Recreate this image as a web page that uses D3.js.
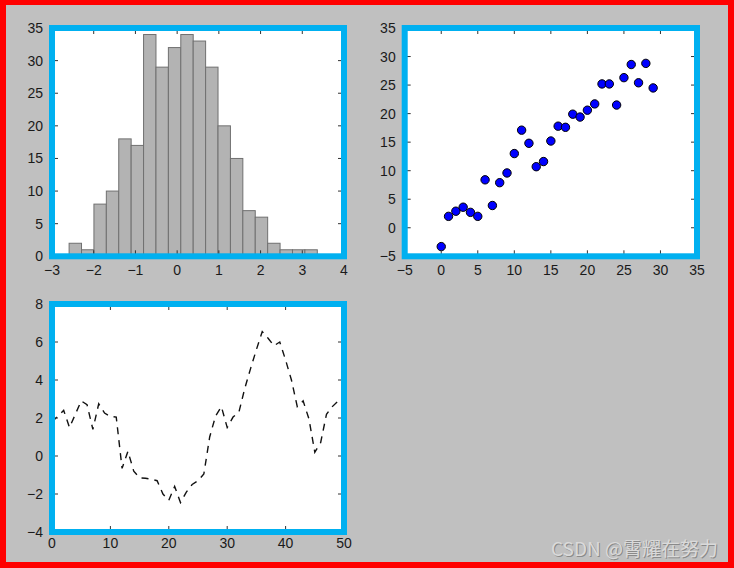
<!DOCTYPE html>
<html>
<head>
<meta charset="utf-8">
<script src="https://cdn.jsdelivr.net/npm/d3@7"></script>
<style>
  html, body { margin: 0; padding: 0; background: #c0c0c0; }
  svg { display: block; }
</style>
</head>
<body>
<svg id="chart" width="734" height="568"></svg>
<script>
// ---------------- DATA ----------------
const histCounts = [2, 1, 8, 10, 18, 17, 34, 29, 32, 34, 33, 29, 20, 15, 7, 6, 2, 1, 1, 1];
const histRange = [-2.59, 3.36];
const histXTicks = [-3, -2, -1, 0, 1, 2, 3, 4];
const histYTicks = [0, 5, 10, 15, 20, 25, 30, 35];

const scatterY = [-3.3, 2.0, 2.9, 3.6, 2.7, 2.0, 8.4, 3.9, 7.9, 9.6,
                  13.0, 17.1, 14.8, 10.7, 11.6, 15.2, 17.8, 17.6, 19.9, 19.4,
                  20.6, 21.7, 25.2, 25.2, 21.5, 26.3, 28.6, 25.4, 28.8, 24.5];
const scatterXTicks = [-5, 0, 5, 10, 15, 20, 25, 30, 35];
const scatterYTicks = [-5, 0, 5, 10, 15, 20, 25, 30, 35];

const lineValues = [1.8, 2.1, 2.4, 1.5, 2.2, 2.9, 2.7, 1.4, 2.75, 2.26,
                    2.08, 2.05, -0.65, 0.25, -0.8, -1.15, -1.17, -1.22, -1.3, -2.0,
                    -2.33, -1.6, -2.45, -1.9, -1.5, -1.3, -0.95, 1.0, 2.1, 2.6,
                    1.5, 2.05, 2.3, 3.55, 4.6, 5.6, 6.55, 6.2, 5.8, 6.0,
                    5.05, 4.0, 2.6, 2.9, 1.95, 0.2, 0.7, 2.2, 2.6, 2.9];
const lineXTicks = [0, 10, 20, 30, 40, 50];
const lineYTicks = [-4, -2, 0, 2, 4, 6, 8];

const watermark = "CSDN @霄耀在努力";

// ---------------- DRAWING ----------------
const svg = d3.select("#chart");
const W = 734, H = 568;
const BLUE = "#00b0f0";
const FONT = "'Liberation Sans', Arial, sans-serif";
const fmt = d3.format("d");

svg.append("rect").attr("width", W).attr("height", H).attr("fill", "#c0c0c0");

function makePanel(box, xDomain, yDomain, xTicks, yTicks, labelGap) {
  const x = d3.scaleLinear().domain(xDomain).range([box.l, box.r]);
  const y = d3.scaleLinear().domain(yDomain).range([box.b, box.t]);
  const g = svg.append("g");
  g.append("rect").attr("x", box.l).attr("y", box.t)
    .attr("width", box.r - box.l).attr("height", box.b - box.t).attr("fill", "#fff");
  const plot = g.append("g");
  const deco = g.append("g");
  const tl = 6;
  const tickColor = "#333";
  xTicks.forEach(v => {
    deco.append("line").attr("x1", x(v)).attr("x2", x(v)).attr("y1", box.b).attr("y2", box.b - tl)
      .attr("stroke", tickColor).attr("stroke-width", 1);
    deco.append("line").attr("x1", x(v)).attr("x2", x(v)).attr("y1", box.t).attr("y2", box.t + tl)
      .attr("stroke", tickColor).attr("stroke-width", 1);
  });
  yTicks.forEach(v => {
    deco.append("line").attr("x1", box.l).attr("x2", box.l + tl).attr("y1", y(v)).attr("y2", y(v))
      .attr("stroke", tickColor).attr("stroke-width", 1);
    deco.append("line").attr("x1", box.r).attr("x2", box.r - tl).attr("y1", y(v)).attr("y2", y(v))
      .attr("stroke", tickColor).attr("stroke-width", 1);
  });
  deco.append("rect").attr("x", box.l).attr("y", box.t)
    .attr("width", box.r - box.l).attr("height", box.b - box.t)
    .attr("fill", "none").attr("stroke", BLUE).attr("stroke-width", 6);
  deco.selectAll(".xl").data(xTicks).enter().append("text")
    .attr("x", d => x(d)).attr("y", box.b + labelGap)
    .attr("text-anchor", "middle").attr("font-family", FONT).attr("font-size", 14)
    .attr("fill", "#1a1a1a").text(d => fmt(d));
  deco.selectAll(".yl").data(yTicks).enter().append("text")
    .attr("x", box.l - 9).attr("y", d => y(d)).attr("dy", "0.36em")
    .attr("text-anchor", "end").attr("font-family", FONT).attr("font-size", 14)
    .attr("fill", "#1a1a1a").text(d => fmt(d));
  return { x, y, plot };
}

// Histogram
(function () {
  const p = makePanel({ l: 52, r: 344, t: 28, b: 256.3 }, [-3, 4], [0, 35], histXTicks, histYTicks, 18.5);
  const step = (histRange[1] - histRange[0]) / histCounts.length;
  const bins = histCounts.map((c, i) => ({ x0: histRange[0] + i * step, x1: histRange[0] + (i + 1) * step, c }));
  p.plot.selectAll("rect").data(bins).enter().append("rect")
    .attr("x", d => p.x(d.x0)).attr("width", d => p.x(d.x1) - p.x(d.x0))
    .attr("y", d => p.y(d.c)).attr("height", d => p.y(0) - p.y(d.c))
    .attr("fill", "#b3b3b3").attr("stroke", "#707070").attr("stroke-width", 1);
})();

// Scatter
(function () {
  const p = makePanel({ l: 404.7, r: 697, t: 28, b: 256.3 }, [-5, 35], [-5, 35], scatterXTicks, scatterYTicks, 18.5);
  p.plot.selectAll("circle").data(scatterY).enter().append("circle")
    .attr("cx", (d, i) => p.x(i)).attr("cy", d => p.y(d)).attr("r", 4.2)
    .attr("fill", "#0000ff").attr("stroke", "#000").attr("stroke-width", 1);
})();

// Line
(function () {
  const p = makePanel({ l: 52, r: 344, t: 304, b: 532 }, [0, 50], [-4, 8], lineXTicks, lineYTicks, 16);
  const line = d3.line().x((d, i) => p.x(i)).y(d => p.y(d));
  p.plot.append("path").datum(lineValues).attr("d", line)
    .attr("fill", "none").attr("stroke", "#111").attr("stroke-width", 1.4)
    .attr("stroke-dasharray", "7,6");
})();

// Watermark
svg.append("text").attr("x", 719).attr("y", 557).attr("text-anchor", "end")
  .attr("font-family", "'Noto Sans CJK SC', 'Noto Sans', sans-serif").attr("font-size", 19)
  .attr("fill", "#8a8a8a").text(watermark);
svg.append("text").attr("x", 718).attr("y", 556).attr("text-anchor", "end")
  .attr("font-family", "'Noto Sans CJK SC', 'Noto Sans', sans-serif").attr("font-size", 19)
  .attr("fill", "#dadada").text(watermark);

// Red border
const RED = "#ff0000";
svg.append("rect").attr("x", 0).attr("y", 0).attr("width", W).attr("height", 5).attr("fill", RED);
svg.append("rect").attr("x", 0).attr("y", H - 6).attr("width", W).attr("height", 6).attr("fill", RED);
svg.append("rect").attr("x", 0).attr("y", 0).attr("width", 6).attr("height", H).attr("fill", RED);
svg.append("rect").attr("x", W - 6).attr("y", 0).attr("width", 6).attr("height", H).attr("fill", RED);
</script>
</body>
</html>
